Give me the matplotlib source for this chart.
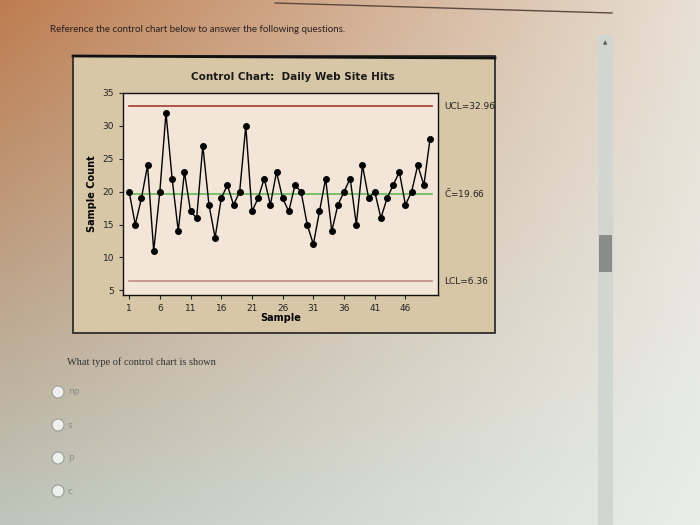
import numpy as np
import matplotlib
matplotlib.use("Agg")
import matplotlib.pyplot as plt
from matplotlib.patches import Rectangle, Ellipse

# daily web site hits, 50 samples (c chart)
samples = np.arange(1, 51)
hits = [20, 15, 19, 24, 11, 20, 32, 22, 14, 23,
        17, 16, 27, 18, 13, 19, 21, 18, 20, 30,
        17, 19, 22, 18, 23, 19, 17, 21, 20, 15,
        12, 17, 22, 14, 18, 20, 22, 15, 24, 19,
        20, 16, 19, 21, 23, 18, 20, 24, 21, 28]
ucl = 32.96
center = 19.66
lcl = 6.36
xticks = [1, 6, 11, 16, 21, 26, 31, 36, 41, 46]
yticks = [5, 10, 15, 20, 25, 30, 35]
options = ["np", "s", "p", "c"]

W, H = 700, 525
fig = plt.figure(figsize=(7, 5.25), dpi=100)

def fx(x):
    return x / W

def fy(y):
    return 1 - y / H

# page background (photo of a screen, warm top-left, light right)
bg = fig.add_axes([0, 0, 1, 1], zorder=-10)
bg.axis("off")
gx, gy = np.meshgrid(np.linspace(0, 1, 140), np.linspace(0, 1, 105))
tl = np.array([190, 125, 80]) / 255
tr = np.array([232, 224, 212]) / 255
bl = np.array([190, 198, 188]) / 255
br = np.array([232, 238, 234]) / 255
img = ((1 - gx)[..., None] * (1 - gy)[..., None] * tl + gx[..., None] * (1 - gy)[..., None] * tr
       + (1 - gx)[..., None] * gy[..., None] * bl + gx[..., None] * gy[..., None] * br)
bg.imshow(img, extent=[0, 1, 0, 1], aspect="auto", origin="upper")
bg.set_xlim(0, 1)
bg.set_ylim(0, 1)

# top rule and scrollbar
bg.plot([fx(275), fx(612)], [fy(3), fy(13)], color="#5a4a40", lw=1)
bg.add_patch(Rectangle((fx(598), fy(525)), fx(15), fy(35) - fy(525), color="#d2d6d2", lw=0))
bg.add_patch(Rectangle((fx(599), fy(272)), fx(13), fy(235) - fy(272), color="#8a8c8c", lw=0))
bg.text(fx(605), fy(43), "\u25b2", fontsize=4, color="#555555", ha="center", va="center")

fig.text(fx(50), fy(30), "Reference the control chart below to answer the following questions.",
         fontsize=7, family="Lato", color="#2a2020", va="center")

# Minitab graph window
bg.add_patch(Rectangle((fx(73), fy(333)), fx(495 - 73), fy(56) - fy(333),
                       facecolor="#d8c7a6", edgecolor="#222222", lw=1.2))
bg.plot([fx(73), fx(495)], [fy(56), fy(58)], color="#111111", lw=2)
fig.text(fx(293), fy(77), "Control Chart:  Daily Web Site Hits", fontsize=7.5,
         fontweight="bold", ha="center", va="center", color="#1a1a1a")

ax = fig.add_axes([fx(123), fy(295), fx(438 - 123), fy(93) - fy(295)])
ax.set_facecolor("#f3e5d8")
ax.axhline(ucl, color="#a33a2e", lw=1.2, xmin=0.02, xmax=0.98)
ax.axhline(center, color="#5dbb55", lw=1.2, xmin=0.02, xmax=0.98)
ax.axhline(lcl, color="#c08c82", lw=1.2, xmin=0.02, xmax=0.98)
ax.plot(samples, hits, color="black", lw=1, marker="o", markersize=4)
ax.set_xlim(0, 51.3)
ax.set_ylim(4.3, 35)
ax.set_xticks(xticks)
ax.set_yticks(yticks)
ax.tick_params(labelsize=6.5, length=3, width=0.8, colors="#222222")
for s in ax.spines.values():
    s.set_color("#111111")
    s.set_linewidth(1)
ax.set_xlabel("Sample", fontsize=7, fontweight="bold", labelpad=0)
ax.set_ylabel("Sample Count", fontsize=7, fontweight="bold", labelpad=4)

lab = ax.get_yaxis_transform()
ax.text(1.02, ucl, "UCL=32.96", transform=lab, fontsize=6.5, va="center", color="#222222")
ax.text(1.02, center, r"$\bar{\mathrm{C}}$=19.66", transform=lab, fontsize=6.5, va="center", color="#222222")
ax.text(1.02, lcl, "LCL=6.36", transform=lab, fontsize=6.5, va="center", color="#222222")

# question and radio options
fig.text(fx(67), fy(362), "What type of control chart is shown", fontsize=7.5,
         family="Liberation Serif", color="#333333", va="center")
for i, opt in enumerate(options):
    yy = 392 + i * 33
    bg.add_patch(Ellipse((fx(58), fy(yy)), 12 / W, 12 / H, facecolor="#eef0ee",
                         edgecolor="#9a9e9a", lw=0.8))
    fig.text(fx(68), fy(yy), opt, fontsize=6.5, color="#8a8e8a", va="center")

fig.savefig("out.png", dpi=100)
